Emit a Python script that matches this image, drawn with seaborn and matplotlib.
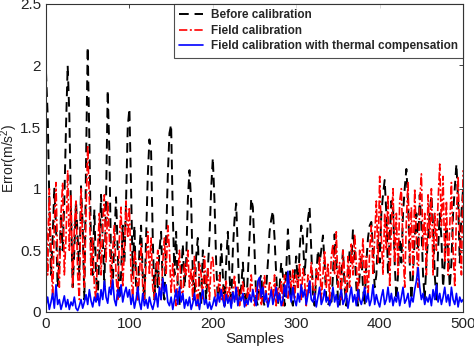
import numpy as np
import pandas as pd
import matplotlib
matplotlib.use("Agg")
import matplotlib.pyplot as plt
import seaborn as sns

# sample index (every 2nd sample)
samples = list(range(0, 501, 2))

before_cal = [
    1.95, 1.6, 0.9, 0.3, 0.6, 1.0, 0.7, 0.2, 0.4, 0.8,
    0.5, 0.9, 1.5, 2.0, 1.6, 0.8, 0.2, 0.5, 0.9, 0.6,
    0.3, 1.02, 0.7, 0.1, 1.2, 2.15, 1.4, 0.5, 0.3, 0.83,
    0.3, 0.1, 0.5, 0.95, 0.6, 0.2, 0.9, 1.8, 1.3, 0.4,
    0.2, 0.6, 0.93, 0.5, 0.1, 0.3, 0.7, 0.4, 0.9, 1.5,
    1.65, 1.0, 0.3, 0.7, 0.2, 0.1, 0.5, 0.7, 0.3, 0.1,
    0.6, 1.1, 1.4, 1.3, 0.6, 0.1, 0.4, 0.2, 0.5, 0.65,
    0.2, 0.1, 0.6, 1.1, 1.45, 1.52, 0.8, 0.3, 0.65, 0.2,
    0.05, 0.3, 0.55, 0.2, 0.4, 0.9, 1.15, 0.9, 0.3, 0.1,
    0.45, 0.6, 0.2, 0.05, 0.5, 0.3, 0.1, 0.35, 0.6, 1.0,
    1.25, 0.9, 0.4, 0.1, 0.2, 0.55, 0.3, 0.05, 0.4, 0.65,
    0.3, 0.05, 0.5, 0.75, 0.88, 0.5, 0.1, 0.2, 0.4, 0.15,
    0.05, 0.3, 0.6, 0.92, 0.85, 0.5, 0.1, 0.05, 0.25, 0.3,
    0.1, 0.05, 0.2, 0.4, 0.65, 0.75, 0.82, 0.6, 0.3, 0.05,
    0.2, 0.4, 0.3, 0.05, 0.35, 0.67, 0.4, 0.1, 0.05, 0.3,
    0.45, 0.2, 0.5, 0.7, 0.6, 0.3, 0.5, 0.75, 0.85, 0.5,
    0.15, 0.05, 0.3, 0.5, 0.4, 0.5, 0.62, 0.4, 0.1, 0.05,
    0.1, 0.05, 0.3, 0.63, 0.4, 0.1, 0.05, 0.3, 0.5, 0.2,
    0.05, 0.3, 0.5, 0.4, 0.67, 0.5, 0.2, 0.05, 0.3, 0.45,
    0.2, 0.05, 0.4, 0.6, 0.7, 0.73, 0.5, 0.2, 0.3, 0.6,
    0.4, 0.8, 0.95, 1.07, 0.8, 0.3, 0.6, 0.9, 0.85, 0.4,
    0.1, 0.3, 0.6, 0.4, 0.8, 1.0, 1.16, 0.9, 0.4, 0.1,
    0.3, 0.6, 0.8, 0.5, 0.95, 0.7, 0.3, 0.1, 0.4, 0.6,
    0.8, 0.95, 0.7, 0.3, 0.1, 0.5, 0.8, 0.6, 0.2, 0.4,
    0.7, 0.5, 0.2, 0.4, 0.8, 1.0, 1.2, 0.9, 0.4, 0.8,
    1.0,
]

field_cal = [
    0.9, 0.3, 1.0, 0.5, 0.1, 0.7, 1.05, 0.4, 0.2, 0.8,
    1.05, 0.3, 0.6, 1.15, 0.5, 0.95, 0.2, 0.7, 0.9, 0.3,
    0.1, 1.0, 0.6, 0.2, 0.8, 1.35, 0.9, 0.3, 0.6, 0.2,
    0.1, 0.5, 0.8, 0.3, 0.7, 0.95, 0.4, 0.9, 0.6, 0.2,
    0.5, 0.7, 0.3, 0.1, 0.6, 0.85, 0.2, 0.5, 0.9, 0.6,
    0.85, 0.3, 0.1, 0.5, 0.4, 0.1, 0.3, 0.55, 0.2, 0.1,
    0.4, 0.65, 0.3, 0.6, 0.2, 0.1, 0.35, 0.5, 0.2, 0.1,
    0.4, 0.6, 0.3, 0.7, 0.5, 0.15, 0.4, 0.2, 0.05, 0.3,
    0.5, 0.2, 0.1, 0.4, 0.3, 0.5, 0.2, 0.35, 0.1, 0.45,
    0.2, 0.05, 0.4, 0.3, 0.1, 0.45, 0.2, 0.35, 0.1, 0.4,
    0.45, 0.2, 0.05, 0.15, 0.3, 0.1, 0.2, 0.05, 0.25, 0.1,
    0.2, 0.05, 0.15, 0.3, 0.1, 0.2, 0.05, 0.15, 0.25, 0.1,
    0.05, 0.2, 0.1, 0.3, 0.15, 0.05, 0.2, 0.1, 0.25, 0.05,
    0.15, 0.3, 0.1, 0.05, 0.25, 0.2, 0.1, 0.3, 0.05, 0.2,
    0.1, 0.25, 0.05, 0.3, 0.15, 0.1, 0.3, 0.2, 0.35, 0.1,
    0.3, 0.2, 0.4, 0.1, 0.35, 0.25, 0.05, 0.3, 0.15, 0.4,
    0.2, 0.1, 0.35, 0.25, 0.45, 0.1, 0.3, 0.5, 0.2, 0.4,
    0.1, 0.45, 0.55, 0.3, 0.65, 0.2, 0.4, 0.1, 0.5, 0.3,
    0.1, 0.45, 0.2, 0.55, 0.3, 0.63, 0.4, 0.1, 0.5, 0.35,
    0.6, 0.2, 0.45, 0.1, 0.5, 0.7, 0.3, 0.6, 0.9, 0.4,
    1.1, 0.6, 0.3, 0.8, 0.5, 0.95, 0.2, 0.7, 1.0, 0.4,
    0.8, 0.3, 0.9, 1.0, 0.5, 0.2, 0.75, 1.05, 0.4, 0.85,
    0.3, 1.0, 0.6, 0.2, 0.9, 1.12, 0.5, 0.8, 0.3, 0.95,
    0.6, 1.0, 0.3, 0.8, 0.5, 0.9, 1.2, 0.7, 1.1, 0.4,
    0.9, 0.3, 0.7, 1.05, 0.5, 0.2, 0.8, 1.1, 0.6, 0.3,
    1.15,
]

thermal_cal = [
    0.05, 0.12, 0.02, 0.08, 0.15, 0.03, 0.22, 0.06, 0.1, 0.02,
    0.07, 0.13, 0.04, 0.1, 0.02, 0.08, 0.05, 0.12, 0.03, 0.01,
    0.05, 0.1, 0.03, 0.08, 0.14, 0.06, 0.18, 0.09, 0.04, 0.12,
    0.08, 0.15, 0.05, 0.18, 0.1, 0.25, 0.12, 0.07, 0.2, 0.14,
    0.26, 0.1, 0.05, 0.18, 0.12, 0.22, 0.08, 0.15, 0.2, 0.12,
    0.18, 0.06, 0.14, 0.03, 0.1, 0.2, 0.08, 0.02, 0.15, 0.05,
    0.1, 0.03, 0.12, 0.06, 0.02, 0.08, 0.15, 0.04, 0.2, 0.1,
    0.27, 0.15, 0.22, 0.08, 0.05, 0.12, 0.02, 0.1, 0.18, 0.06,
    0.2, 0.08, 0.15, 0.03, 0.1, 0.05, 0.12, 0.02, 0.07, 0.15,
    0.05, 0.1, 0.02, 0.12, 0.18, 0.06, 0.1, 0.03, 0.08, 0.02,
    0.06, 0.12, 0.05, 0.15, 0.08, 0.18, 0.1, 0.04, 0.14, 0.07,
    0.12, 0.03, 0.16, 0.08, 0.2, 0.05, 0.12, 0.09, 0.15, 0.04,
    0.1, 0.06, 0.14, 0.08, 0.18, 0.1, 0.05, 0.25, 0.28, 0.12,
    0.2, 0.08, 0.15, 0.04, 0.1, 0.18, 0.06, 0.12, 0.2, 0.08,
    0.15, 0.05, 0.1, 0.22, 0.12, 0.33, 0.15, 0.08, 0.2, 0.1,
    0.05, 0.15, 0.08, 0.22, 0.12, 0.18, 0.06, 0.14, 0.25, 0.1,
    0.08, 0.15, 0.04, 0.12, 0.2, 0.06, 0.1, 0.18, 0.08, 0.12,
    0.05, 0.1, 0.2, 0.08, 0.14, 0.04, 0.12, 0.18, 0.06, 0.1,
    0.15, 0.03, 0.12, 0.2, 0.08, 0.14, 0.05, 0.18, 0.1, 0.06,
    0.12, 0.2, 0.08, 0.15, 0.05, 0.1, 0.22, 0.06, 0.14, 0.08,
    0.04, 0.12, 0.18, 0.06, 0.1, 0.2, 0.08, 0.15, 0.05, 0.12,
    0.08, 0.16, 0.05, 0.12, 0.2, 0.07, 0.1, 0.15, 0.04, 0.12,
    0.08, 0.18, 0.25, 0.36, 0.2, 0.1, 0.15, 0.06, 0.12, 0.08,
    0.14, 0.05, 0.18, 0.1, 0.22, 0.08, 0.15, 0.06, 0.12, 0.2,
    0.08, 0.14, 0.05, 0.2, 0.1, 0.06, 0.15, 0.04, 0.12, 0.08,
    0.1,
]

series_names = ["Before calibration", "Field calibration",
                "Field calibration with thermal compensation"]

yticks = [0, 0.5, 1, 1.5, 2, 2.5]
ytick_labels = ["0", "0.5", "1", "1.5", "2", "2.5"]
xticks = [0, 100, 200, 300, 400, 500]

df = pd.DataFrame({
    "Samples": samples * 3,
    "Error": before_cal + field_cal + thermal_cal,
    "Series": [series_names[0]] * len(samples)
              + [series_names[1]] * len(samples)
              + [series_names[2]] * len(samples),
})

sns.set_style("white")
plt.rcParams["font.family"] = ["Liberation Sans", "DejaVu Sans"]
plt.rcParams["mathtext.fontset"] = "custom"
plt.rcParams["mathtext.rm"] = "Liberation Sans"

fig = plt.figure(figsize=(4.74, 3.54), dpi=100)
ax = fig.add_axes([0.097, 0.119, 0.880, 0.870])

palette = {series_names[0]: "black", series_names[1]: "#ff0000",
           series_names[2]: "#0000ff"}
sns.lineplot(data=df, x="Samples", y="Error", hue="Series",
             palette=palette, ax=ax, legend=False, estimator=None)

lines = ax.get_lines()
lines[0].set_linestyle((0, (5, 3)))
lines[0].set_linewidth(1.4)
lines[1].set_linestyle((0, (5, 1.5, 1.2, 1.5)))
lines[1].set_linewidth(1.2)
lines[2].set_linestyle("-")
lines[2].set_linewidth(1.2)

ax.set_xlim(0, 500)
ax.set_ylim(0, 2.5)
ax.set_xticks(xticks)
ax.set_yticks(yticks)
ax.set_yticklabels(ytick_labels)
ax.tick_params(direction="in", length=3, labelsize=11, top=True, right=True,
               colors="#222222", labelcolor="#222222", width=0.6)
for sp in ax.spines.values():
    sp.set_color("#333333")
    sp.set_linewidth(0.8)
ax.set_xlabel("Samples", fontsize=11, labelpad=1, color="#222222")
ax.set_ylabel("Error(m/s$^\\mathregular{2}$)", fontsize=10, labelpad=0,
              color="#222222")
ax.yaxis.set_label_coords(-0.062, 0.5)

leg = ax.legend(lines, series_names, loc="upper right", borderaxespad=0,
                prop={"weight": "bold", "size": 8.5}, frameon=True,
                fancybox=False, edgecolor="#222222", handlelength=2.0,
                borderpad=0.45, labelspacing=0.3, handletextpad=0.7)
leg.get_frame().set_linewidth(0.8)

fig.savefig("out.png", dpi=100)
